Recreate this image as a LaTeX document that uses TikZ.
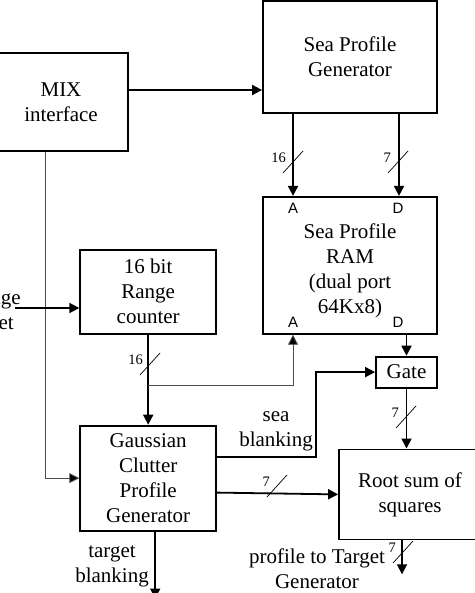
\documentclass[tikz,border=0pt]{standalone}
\usepackage{fontspec}
\setmainfont{Liberation Serif}
\newfontfamily\portfont{Liberation Sans}
\usetikzlibrary{arrows.meta, positioning}

\begin{document}
\begin{tikzpicture}[
    x=1pt, y=-1pt,
    block/.style={rectangle, draw, line width=1.8pt, inner sep=0pt, align=center,
    font=\fontsize{21}{25}\selectfont},
    port/.style={font=\portfont\fontsize{15}{16}\selectfont, inner sep=0pt},
    txt/.style={align=center, inner sep=0pt, font=\fontsize{21}{25}\selectfont},
    buslabel/.style={font=\fontsize{14.5}{16}\selectfont, inner sep=0pt, anchor=east},
    busmark/.style={line width=0.7pt},
    arrow/.style={line width=1.8pt, -{Triangle[length=10pt, width=10pt]}},
    thinarrow/.style={line width=0.9pt, draw=black!70, -{Triangle[length=10pt, width=10pt, fill=black]}}
]
\useasboundingbox (0,0) rectangle (474,593);

% Nodes
\node[block, minimum width=134pt, minimum height=98pt] at (61,102) (mix) {MIX\\ interface};
\node[block, minimum width=174pt, minimum height=112pt] at (350,57) (spg) {Sea Profile\\ Generator};
\node[block, minimum width=174pt, minimum height=137pt, below=82pt of spg] (ram) {%
  \mbox{}\\ Sea Profile\\ RAM\\ (dual port\\ 64Kx8)};
\node[block, minimum width=136pt, minimum height=84pt, left=45pt of ram, yshift=-26.5pt]%
  (counter) {16 bit\\ Range\\ counter};
\node[block, minimum width=136pt, minimum height=105pt, below=90pt of counter]%
  (gauss) {Gaussian\\ Clutter\\ Profile\\ Generator};
\node[block, minimum width=61pt, minimum height=31pt, below=21pt of ram.south east,
  anchor=north east] (gate) {Gate};
\node[block, minimum width=142pt, minimum height=90pt, below=60pt of gate, xshift=3.5pt]%
  (root) {Root sum of\\ squares};

% Port labels
\node[port] at (293,208) (ramAtop) {A};
\node[port] at (398,208) (ramDtop) {D};
\node[port] at (293,322) (ramAbot) {A};
\node[port] at (398,322) (ramDbot) {D};

% Free texts
\node[txt, anchor=east] at (21,310) (rangein) {Range\\ reset};
\node[txt] at (276,431) (seablank) {sea\\ blanking};
\node[txt] at (112,566) (tgtblank) {target\\ blanking};
\node[txt] at (317,569) (profout) {profile to Target\\ Generator};

% Coordinates
\coordinate (rin) at (15,308);
\coordinate (br) at ([yshift=-51pt]counter.south);
\coordinate (tbout) at ([xshift=7pt, yshift=-67pt]gauss.south);
\coordinate (pout) at ([xshift=-8pt, yshift=-34pt]root.south);

% Arrows
\draw[arrow] ([yshift=12pt]mix.east) -- ([yshift=12pt]mix.east -| spg.west);
\draw[arrow] ([xshift=-57pt]spg.south) -- ([xshift=-57pt]ram.north);
\draw[arrow] ([xshift=49pt]spg.south) -- ([xshift=49pt]ram.north);
\draw[thinarrow] ([xshift=-16pt]mix.south) |- (gauss.west);
\draw[arrow] (rin) -- (rin -| counter.west);
\draw[arrow] (counter.south) -- (counter.south |- gauss.north);
\draw[thinarrow] (br) -| ([xshift=-57pt]ram.south);
\draw[arrow] (ram.south -| gate.north) -- (gate.north);
\draw[arrow] ([yshift=21.5pt]gauss.east) -- ++(99,0) |- (gate.west);
\draw[arrow] (gate.south) -- (gate.south |- root.north);
\draw[arrow] ([yshift=-14.5pt]gauss.east) -- (root.west);
\draw[arrow] ([xshift=7pt]gauss.south) -- (tbout);
\draw[arrow] ([xshift=-8pt]root.south) -- (pout);

% Bus widths
\coordinate (bA) at (293,162);
\coordinate (bD) at (398,162);
\coordinate (bC) at (150,364);
\coordinate (bG) at (406,417);
\coordinate (bR) at (277,486);
\coordinate (bP) at (403,552);
\foreach \pos/\lbl in {bA/16, bD/7, bC/16, bG/7, bR/7, bP/7} {
  \draw[busmark] (\pos) ++(-10,11) -- ++(20,-22);
  \node[buslabel] at ([xshift=-7pt, yshift=4pt]\pos) {\lbl};
}

\end{tikzpicture}
\end{document}
